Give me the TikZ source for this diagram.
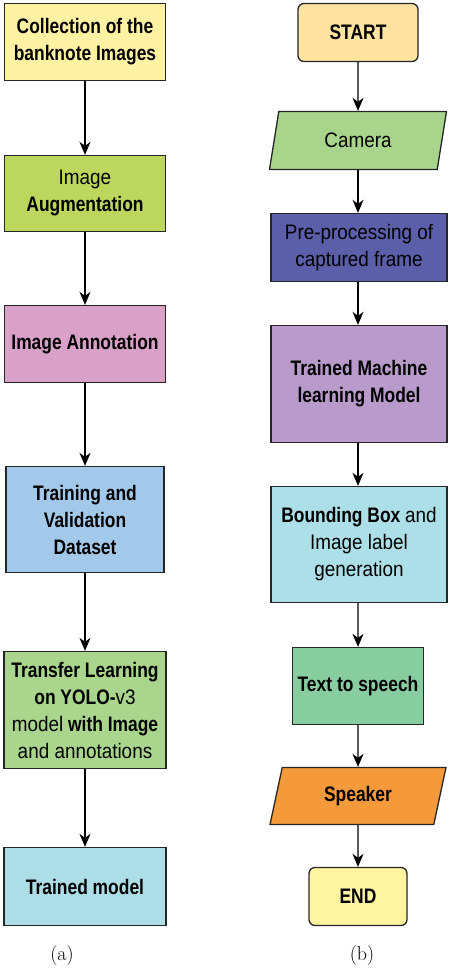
\documentclass[tikz,border=0pt]{standalone}
\usepackage{fontspec}
\usepackage[usenames,dvipsnames]{xcolor}
\usetikzlibrary{shapes.geometric,arrows.meta}

\newfontfamily\boxfont[FakeStretch=0.83]{Liberation Sans}
\newfontfamily\boxlite[FakeStretch=0.9]{Liberation Sans}
\newcommand{\litetext}[1]{{\boxlite\mdseries #1}}

\definecolor{collectyellow}{HTML}{FFF3A3}
\definecolor{augmentgreen}{HTML}{BDD75E}
\definecolor{annotpink}{HTML}{D9A0C8}
\definecolor{trainblue}{HTML}{A3C9EA}
\definecolor{transfergreen}{HTML}{A9D58C}
\definecolor{modelcyan}{HTML}{ADDDE7}
\definecolor{startorange}{HTML}{FFE3A0}
\definecolor{camgreen}{HTML}{A9D48C}
\definecolor{preblue}{HTML}{5B5EA8}
\definecolor{mlpurple}{HTML}{B89BCB}
\definecolor{bboxcyan}{HTML}{ADDFE8}
\definecolor{ttsgreen}{HTML}{88CDA0}
\definecolor{speakorange}{HTML}{F59A3A}
\definecolor{endyellow}{HTML}{FFF4A0}

\begin{document}
\begin{tikzpicture}[x=1pt, y=-1pt,
    box/.style = {draw=black!85, line width=1.3pt, rectangle, inner sep=0pt, align=center,
      font=\boxfont\fontsize{21}{27}\selectfont\bfseries},
    io/.style = {box, trapezium, trapezium left angle=58, trapezium right angle=122,
      trapezium stretches body},
    terminal/.style = {box, rounded corners=6pt},
    flow/.style = {-{Stealth[length=13pt, width=11pt, inset=4pt]}, line width=1.4pt}]
  \useasboundingbox (0,0) rectangle (450,968);

  % (a) training pipeline
  \node [box, fill=collectyellow, minimum width = 161pt, minimum height = 77pt] (collect) at (85,42) {Collection of the\\banknote Images};
  \node [box, fill=augmentgreen, minimum width = 161pt, minimum height = 76pt] (augment) at (85,193.5) {\litetext{Image}\\Augmentation};
  \node [box, fill=annotpink, minimum width = 161pt, minimum height = 77pt] (annotate) at (85,344) {Image Annotation};
  \node [box, fill=trainblue, minimum width = 158pt, minimum height = 106pt] (dataset) at (85,519.5) {Training and\\Validation\\Dataset};
  \node [box, fill=transfergreen, minimum width = 162pt, minimum height = 117pt] (transfer) at (85,710) {Transfer Learning\\on YOLO-\litetext{v3}\\\litetext{model} with Image\\\litetext{and annotations}};
  \node [box, fill=modelcyan, minimum width = 162pt, minimum height = 78pt] (trained) at (85,886.5) {Trained model};

  \draw [flow] (collect.south) -- (augment.north);
  \draw [flow] (augment.south) -- (annotate.north);
  \draw [flow] (annotate.south) -- (dataset.north);
  \draw [flow] (dataset.south) -- (transfer.north);
  \draw [flow] (transfer.south) -- (trained.north);

  % (b) detection pipeline
  \node [terminal, fill=startorange, minimum width = 120pt, minimum height = 58pt] (start) at (358,32.5) {START};
  \node [io, fill=camgreen, minimum width = 177pt, minimum height = 58pt] (camera) at (358,140.5) {\litetext{Camera}};
  \node [box, fill=preblue, minimum width = 176pt, minimum height = 68pt] (preproc) at (359,247.5) {\litetext{Pre-processing of}\\\litetext{captured frame}};
  \node [box, fill=mlpurple, minimum width = 176pt, minimum height = 117pt] (mlmodel) at (359,384) {Trained Machine\\learning Model};
  \node [box, fill=bboxcyan, minimum width = 176pt, minimum height = 116pt] (bbox) at (359,544.5) {Bounding Box \litetext{and}\\\litetext{Image label}\\\litetext{generation}};
  \node [box, fill=ttsgreen, minimum width = 131pt, minimum height = 77pt] (tts) at (358,686) {Text to speech};
  \node [io, fill=speakorange, minimum width = 176pt, minimum height = 57pt] (speaker) at (358,796) {Speaker};
  \node [terminal, fill=endyellow, minimum width = 98pt, minimum height = 58pt] (end) at (358,896.5) {END};

  \draw [flow] (start.south) -- (camera.north);
  \draw [flow] (camera.south) -- (camera.south |- preproc.north);
  \draw [flow] (camera.south |- preproc.south) -- (camera.south |- mlmodel.north);
  \draw [flow] (camera.south |- mlmodel.south) -- (camera.south |- bbox.north);
  \draw [flow] (camera.south |- bbox.south) -- (tts.north);
  \draw [flow] (tts.south) -- (speaker.north);
  \draw [flow] (speaker.south) -- (end.north);

  \node [font=\fontsize{20}{22}\selectfont] (capa) at (62,955) {(a)};
  \node [font=\fontsize{20}{22}\selectfont] (capb) at (362,955) {(b)};
\end{tikzpicture}
\end{document}
